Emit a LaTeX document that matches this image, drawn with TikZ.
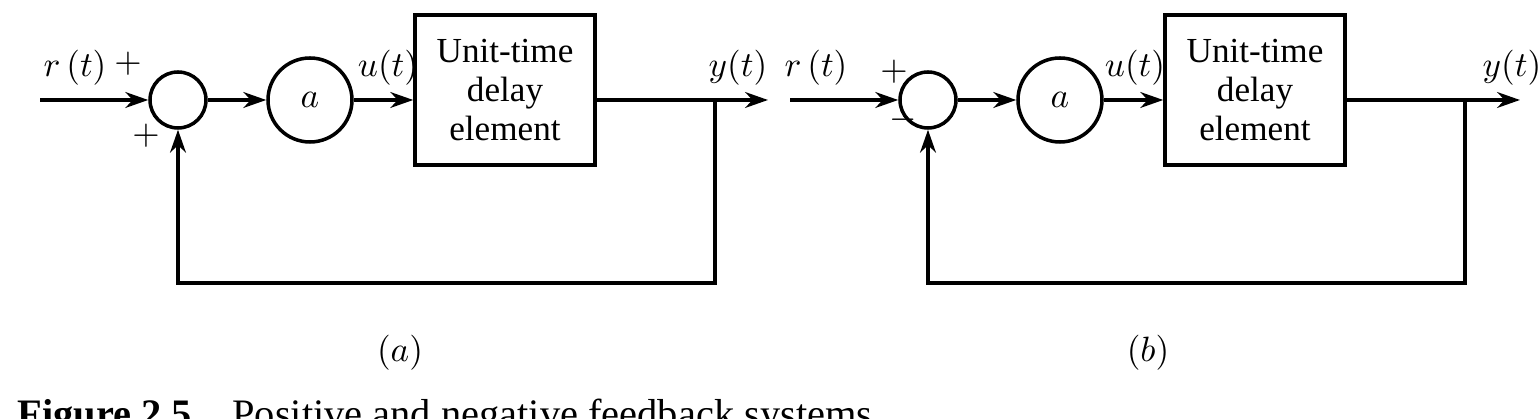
\documentclass[tikz,border=0pt]{standalone}
\usepackage{fontspec}
\setmainfont{Liberation Serif}
\usetikzlibrary{arrows.meta}
\tikzset{
  sig/.style={-{Stealth[length=6.5pt,width=4.5pt]}, line width=1pt},
  sum/.style={circle, draw, line width=1pt, minimum size=56\pgfunit, inner sep=0pt},
  gain/.style={circle, draw, line width=1pt, minimum size=84\pgfunit, inner sep=0pt},
  block/.style={rectangle, draw, line width=1pt, minimum width=180\pgfunit, minimum height=150\pgfunit, align=center},
  lbl/.style={font=\fontsize{10}{11}\selectfont}
}
\def\pgfunit{*0.01cm}
\begin{document}
\begin{tikzpicture}[x=0.01cm, y=-0.01cm, lbl]
\useasboundingbox (0,0) rectangle (1538,419);
% (a) positive feedback
\coordinate (inA) at (40,100);
\node[sum] (sumA) at (178,100) {};
\node[gain] (gainA) at (310,100) {$a$};
\node[block] (delayA) at (505,90) {Unit-time\\delay\\element};
\coordinate (outA) at (768,100);
\coordinate (tapA) at (715,100);
\coordinate (cornA) at (715,283);
\coordinate (backA) at (178,283);
\draw[sig] (inA) -- (sumA);
\draw[sig] (sumA) -- (gainA);
\draw[sig] (gainA) -- (delayA.west |- gainA);
\draw[sig] (delayA.east |- gainA) -- (outA);
\draw[sig] (tapA) -- (cornA) -- (backA) -- (sumA);
\node at (75,68) {$r\,(t)$};
\node at (128,64) {$+$};
\node at (146,136) {$+$};
\node at (388,68) {$u(t)$};
\node at (738,68) {$y(t)$};
\node at (400,353) {$(a)$};

% (b) negative feedback
\coordinate (inB) at (790,100);
\node[sum] (sumB) at (928,100) {};
\node[gain] (gainB) at (1060,100) {$a$};
\node[block] (delayB) at (1255,90) {Unit-time\\delay\\element};
\coordinate (outB) at (1520,100);
\coordinate (tapB) at (1465,100);
\coordinate (cornB) at (1465,283);
\coordinate (backB) at (928,283);
\draw[sig] (inB) -- (sumB);
\draw[sig] (sumB) -- (gainB);
\draw[sig] (gainB) -- (delayB.west |- gainB);
\draw[sig] (delayB.east |- gainB) -- (outB);
\draw[sig] (tapB) -- (cornB) -- (backB) -- (sumB);
\node at (816,68) {$r\,(t)$};
\node at (894,72) {$+$};
\node at (903,120) {$-$};
\node at (1135,68) {$u(t)$};
\node at (1512,68) {$y(t)$};
\node at (1148,353) {$(b)$};

% caption
\node[anchor=base west, font=\fontsize{11.5}{13}\selectfont] (cap) at (5,428) {\textbf{Figure 2.5}\quad Positive and negative feedback systems.};
\end{tikzpicture}
\end{document}
